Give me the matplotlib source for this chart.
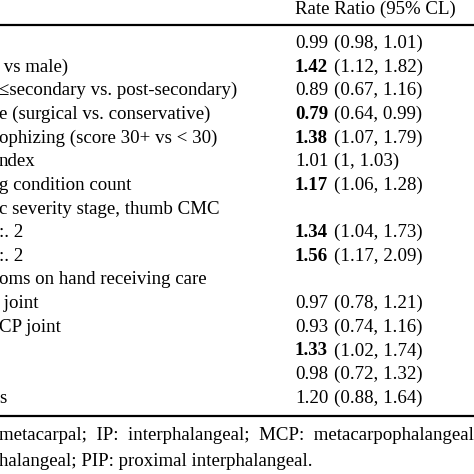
import matplotlib
matplotlib.use("Agg")
import matplotlib.pyplot as plt

labels = ["", " vs male)", "\u2264secondary vs. post-secondary)", "e (surgical vs. conservative)",
          "ophizing (score 30+ vs < 30)", "ndex", "g condition count",
          "c severity stage, thumb CMC", ":. 2", ":. 2", "oms on hand receiving care",
          " joint", "CP joint", "", "", "s"]
ratios = ["0.99", "1.42", "0.89", "0.79", "1.38", "1.01", "1.17", "", "1.34", "1.56", "",
          "0.97", "0.93", "1.33", "0.98", "1.20"]
cis = ["(0.98, 1.01)", "(1.12, 1.82)", "(0.67, 1.16)", "(0.64, 0.99)", "(1.07, 1.79)", "(1, 1.03)",
       "(1.06, 1.28)", "", "(1.04, 1.73)", "(1.17, 2.09)", "", "(0.78, 1.21)", "(0.74, 1.16)",
       "(1.02, 1.74)", "(0.72, 1.32)", "(0.88, 1.64)"]
bold = [False, True, False, True, True, False, True, False, True, True, False,
        False, False, True, False, False]
footnotes = ["metacarpal;  IP:  interphalangeal;  MCP:  metacarpophalangeal;",
             "halangeal; PIP: proximal interphalangeal."]

W = H = 474
fig = plt.figure(figsize=(4.74, 4.74), dpi=100)
fig.patch.set_facecolor("white")
fs = 13.6
fam = "Liberation Serif"

def px(x, y):
    return x / W, 1 - y / H

fig.text(*px(295, 9), "Rate Ratio (95% CL)", fontsize=fs, family=fam, va="center", ha="left")
for y in (24.5, 416):
    fig.add_artist(plt.Line2D([0, 1], [1 - y / H] * 2, color="black", lw=1.6))

y0, dy = 43.5, 23.65
for i, (lab, r, ci, b) in enumerate(zip(labels, ratios, cis, bold)):
    y = y0 + i * dy
    fig.text(*px(-1, y), lab, fontsize=fs, family=fam, va="center", ha="left")
    if r:
        fig.text(*px(295, y), r, fontsize=fs, family=fam, va="center", ha="left",
                 weight="bold" if b else "normal")
        fig.text(*px(334, y), ci, fontsize=fs, family=fam, va="center", ha="left")

fig.text(*px(-1, 435), footnotes[0], fontsize=fs, family=fam, va="center", ha="left")
fig.text(*px(-1, 461), footnotes[1], fontsize=fs, family=fam, va="center", ha="left")

fig.savefig("out.png", dpi=100, facecolor="white")
